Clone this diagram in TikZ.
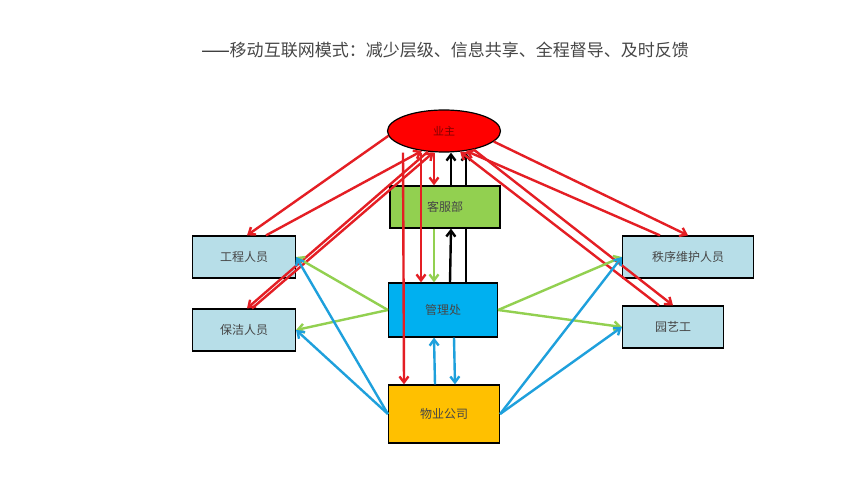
\documentclass[tikz,border=0pt]{standalone}
\usepackage{fontspec}
\newfontfamily\cjk{Noto Sans CJK SC}
\usetikzlibrary{arrows.meta,shapes.geometric}
\definecolor{redline}{RGB}{228,30,36}
\definecolor{greenline}{RGB}{146,208,80}
\definecolor{blueline}{RGB}{30,160,220}
\definecolor{staff}{RGB}{183,222,232}
\definecolor{office}{RGB}{0,176,240}
\definecolor{company}{RGB}{255,192,0}
\definecolor{txt}{RGB}{70,70,70}

\begin{document}
\begin{tikzpicture}[x=1pt,y=-1pt]
    \tikzset{
      box/.style={draw=black,line width=1.2pt,minimum height=42pt,font=\cjk\fontsize{12}{12}\selectfont,text=txt},
      edge/.style={-{Straight Barb[length=6pt,width=9pt]},line width=2.4pt},
      redge/.style={edge,redline},
      gedge/.style={edge,greenline},
      bedge/.style={edge,blueline},
      kedge/.style={edge,black}
    }
    \useasboundingbox (0,0) rectangle (864,486);
    \fill[white] (0,0) rectangle (864,486);
    \node[font=\cjk\fontsize{17}{17}\selectfont,text=txt] (sub) at (445,50)
      {\textcolor{black}{——}移动互联网模式：减少层级、信息共享、全程督导、及时反馈};

    % vertices
    \node[ellipse,draw=black,line width=1.2pt,fill=red,minimum width=113pt,minimum height=42pt,
      font=\cjk\fontsize{11}{11}\selectfont,text=red!50!black] (yz) at (444,131) {业主};
    \node[box,fill=greenline,minimum width=110pt] (kf) at (445,207) {客服部};
    \node[box,fill=office,minimum width=109pt,minimum height=54pt] (gl) at (443,310) {管理处};
    \node[box,fill=company,minimum width=111pt,minimum height=58pt] (wy) at (444,414) {物业公司};
    \node[box,fill=staff,minimum width=103pt] (gc) at (244,257) {工程人员};
    \node[box,fill=staff,minimum width=103pt] (bj) at (244,330) {保洁人员};
    \node[box,fill=staff,minimum width=131pt] (zx) at (688,257) {秩序维护人员};
    \node[box,fill=staff,minimum width=101pt] (yy) at (673,327) {园艺工};

    % edges
    \draw[kedge] ([xshift=23pt]gl.north) -- ([xshift=22pt]yz.south);
    \node[box,fill=greenline,minimum width=110pt] (kfcover) at (kf) {客服部};
    \draw[kedge] ([xshift=7pt]gl.north) -- ([xshift=6pt]kf.south);
    \draw[kedge] ([xshift=6pt]kf.north) -- ([xshift=7pt]yz.south);
    \draw[redge] ([xshift=-10pt]yz.south) -- ([xshift=-11pt]kf.north);
    \draw[redge] ([xshift=-23pt]yz.south) -- ([xshift=-22pt]gl.north);
    \draw[redge] ([xshift=-41pt]yz.south) -- ([xshift=-40pt]wy.north);
    \draw[gedge] ([xshift=-11pt]kf.south) -- ([xshift=-9pt]gl.north);
    \draw[bedge] ([xshift=-9pt]wy.north) -- ([xshift=-9pt]gl.south);
    \draw[bedge] ([xshift=11pt]gl.south) -- ([xshift=11pt]wy.north);

    \draw[redge] (yz.185) -- ([xshift=3pt]gc.north);
    \draw[redge] ([xshift=22pt]gc.north) -- (yz.222);
    \draw[redge] (yz.232) -- ([xshift=3pt]bj.north);
    \draw[redge] ([xshift=8pt]bj.north) -- (yz.244);
    \draw[redge] (yz.348) -- ([xshift=0pt]zx.north);
    \draw[redge] ([xshift=-28pt]zx.north) -- (yz.318);
    \draw[redge] (yz.328) -- ([xshift=0pt]yy.north);
    \draw[redge] ([xshift=-14pt]yy.north) -- (yz.308);

    \draw[gedge] (gl.west) -- (gc.east);
    \draw[gedge] (gl.west) -- (bj.east);
    \draw[gedge] (gl.east) -- (zx.west);
    \draw[gedge] (gl.east) -- (yy.west);
    \draw[bedge] (wy.west) -- (gc.east);
    \draw[bedge] (wy.west) -- (bj.east);
    \draw[bedge] (wy.east) -- (zx.west);
    \draw[bedge] (wy.east) -- (yy.west);
\end{tikzpicture}
\end{document}
